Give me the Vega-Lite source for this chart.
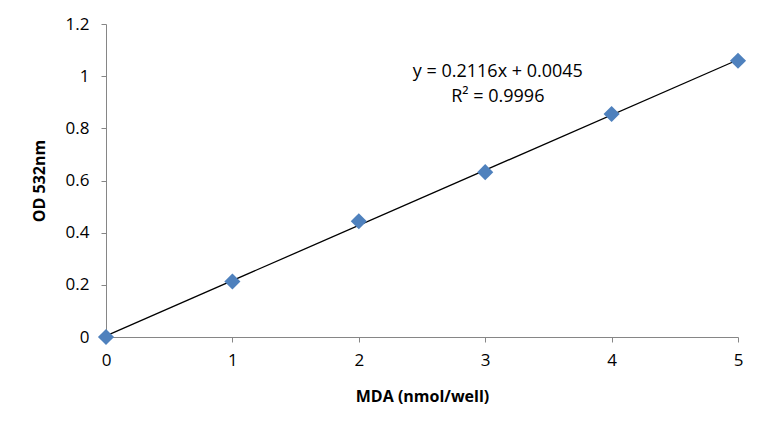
{
  "$schema": "https://vega.github.io/schema/vega-lite/v6.json",
  "autosize": {"type": "none"},
  "padding": {"left": 106, "top": 24, "right": 30, "bottom": 100},
  "width": 632,
  "height": 313,
  "background": "white",
  "datasets": {
    "points": [
      {"MDA": 0, "OD": 0.0},
      {"MDA": 1, "OD": 0.213},
      {"MDA": 2, "OD": 0.444},
      {"MDA": 3, "OD": 0.632},
      {"MDA": 4, "OD": 0.855},
      {"MDA": 5, "OD": 1.059}
    ],
    "labels": [
      {"MDA": 3.1, "OD": 1.016, "label": "y = 0.2116x + 0.0045"},
      {"MDA": 3.1, "OD": 0.92, "label": "R² = 0.9996"}
    ]
  },
  "layer": [
    {
      "data": {"name": "points"},
      "transform": [
        {"regression": "OD", "on": "MDA", "method": "linear", "extent": [0, 5]}
      ],
      "mark": {"type": "line", "color": "black", "strokeWidth": 1.3},
      "encoding": {
        "x": {"field": "MDA", "type": "quantitative"},
        "y": {"field": "OD", "type": "quantitative"}
      }
    },
    {
      "data": {"name": "points"},
      "mark": {"type": "point", "shape": "diamond", "filled": true, "size": 260, "color": "#4F81BD", "opacity": 1},
      "encoding": {
        "x": {
          "field": "MDA",
          "type": "quantitative",
          "title": "MDA (nmol/well)",
          "scale": {"domain": [0, 5], "nice": false},
          "axis": {"values": [0, 1, 2, 3, 4, 5], "format": "d", "titlePadding": 20}
        },
        "y": {
          "field": "OD",
          "type": "quantitative",
          "title": "OD 532nm",
          "scale": {"domain": [0, 1.2], "nice": false},
          "axis": {"values": [0, 0.2, 0.4, 0.6, 0.8, 1, 1.2], "format": "~g", "titlePadding": 18, "labelPadding": 12}
        }
      }
    },
    {
      "data": {"name": "labels"},
      "mark": {"type": "text", "fontSize": 18, "font": "Open Sans", "color": "black"},
      "encoding": {
        "x": {"field": "MDA", "type": "quantitative"},
        "y": {"field": "OD", "type": "quantitative"},
        "text": {"field": "label"}
      }
    }
  ],
  "config": {
    "view": {"stroke": null},
    "axis": {
      "grid": false,
      "domainColor": "#868686",
      "tickColor": "#868686",
      "tickSize": 5,
      "labelFlush": false,
      "labelFont": "Open Sans",
      "labelFontSize": 17,
      "labelColor": "black",
      "labelPadding": 10,
      "titleFont": "Open Sans",
      "titleFontSize": 16,
      "titleFontWeight": "bold",
      "titleColor": "black"
    }
  }
}
